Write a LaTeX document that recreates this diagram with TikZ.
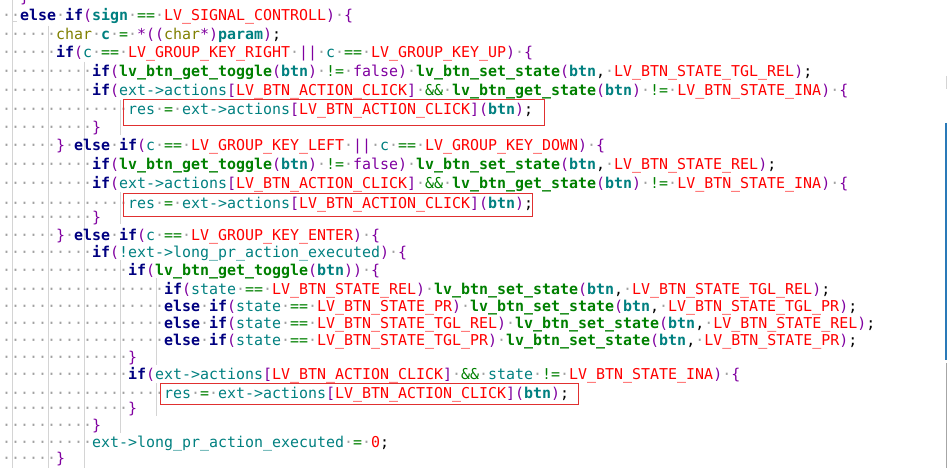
\documentclass[tikz,border=0pt]{standalone}
\usepackage{fontspec}
\setmainfont{DejaVu Sans Mono}
\definecolor{kwc}{HTML}{000080}
\definecolor{idc}{HTML}{008080}
\definecolor{fnc}{HTML}{008000}
\definecolor{opc}{HTML}{008000}
\definecolor{cnc}{HTML}{FF0000}
\definecolor{pc}{HTML}{8000A0}
\definecolor{olc}{HTML}{808000}
\definecolor{dotc}{HTML}{A0A0A0}
\definecolor{guidec}{HTML}{D4D4D4}
\definecolor{boxc}{HTML}{E03030}
\definecolor{bluec}{HTML}{2A7AB8}
\catcode`\_=12
\newcommand\K[1]{\textcolor{kwc}{\bfseries #1}}
\newcommand\I[1]{\textcolor{idc}{#1}}
\newcommand\B[1]{\textcolor{idc}{\bfseries #1}}
\newcommand\F[1]{\textcolor{fnc}{\bfseries #1}}
\newcommand\OP[1]{\textcolor{opc}{#1}}
\newcommand\C[1]{\textcolor{cnc}{#1}}
\newcommand\PP[1]{\textcolor{pc}{#1}}
\newcommand\Y[1]{\textcolor{olc}{#1}}
\newcommand\s{\textcolor{dotc}{·}}
\newcommand\ind[1]{\count255=0 \loop\ifnum\count255<#1 \s\advance\count255 1 \repeat}
\newcommand\resline{\I{res}\s\OP{=}\s\I{ext->actions}\PP{[}\C{LV_BTN_ACTION_CLICK}\PP{](}\B{btn}\PP{)};}
\newcommand\setst[1]{\F{lv_btn_set_state}\PP{(}\B{btn},\s\C{#1}\PP{)};}
\newcommand\elst[3]{#1\K{if}\PP{(}\I{state}\s\OP{==}\s\C{#2}\PP{)}\s\setst{#3}}
\begin{document}
\begin{tikzpicture}[x=1pt,y=-1pt,
  code/.style={anchor=base west,inner sep=0pt,font=\fontsize{14.95}{17.7}\selectfont},
  guide/.style={draw=guidec,line width=0.8pt},
  hl/.style={draw=boxc,line width=0.9pt}]
\useasboundingbox[fill=white] (0,0) rectangle (947,468);
% guides
\draw[guide] (12,0) -- (12,468);
\draw[guide] (48,26) -- (48,468);
\draw[guide] (84,62) -- (84,468);
\draw[guide] (120,100) -- (120,135) (120,192) -- (120,224) (120,260) -- (120,433);
\draw[guide] (156,278) -- (156,365) (156,383) -- (156,416);
\draw[guide] (12,21) -- (17,21);
% right edge
\draw[guidec,line width=1pt] (946,76) -- (946,89);
\draw[bluec,line width=1.2pt] (946,123) -- (946,360);
\draw[gray!70,line width=1pt] (946,363) -- (946,468);
\foreach \i/\yy/\t in {
 -1/-2/{\ind2\PP{\}}},
 0/16/{\ind2\K{else}\s\K{if}\PP{(}\B{sign}\s\OP{==}\s\C{LV_SIGNAL_CONTROLL}\PP{)}\s\PP{\{}},
 1/35/{\ind6\Y{char}\s\B{c}\s\OP{=}\s\PP{*((}\Y{char}\PP{*)}\B{param}\PP{)};},
 2/53/{\ind6\K{if}\PP{(}\I{c}\s\OP{==}\s\C{LV_GROUP_KEY_RIGHT}\s\PP{||}\s\I{c}\s\OP{==}\s\C{LV_GROUP_KEY_UP}\PP{)}\s\PP{\{}},
 3/72/{\ind{10}\K{if}\PP{(}\F{lv_btn_get_toggle}\PP{(}\B{btn}\PP{)}\s\OP{!=}\s\PP{false)}\s\setst{LV_BTN_STATE_TGL_REL}},
 4/91/{\ind{10}\K{if}\PP{(}\I{ext->actions}\PP{[}\C{LV_BTN_ACTION_CLICK}\PP{]}\s\OP{\&\&}\s\F{lv_btn_get_state}\PP{(}\B{btn}\PP{)}\s\OP{!=}\s\C{LV_BTN_STATE_INA}\PP{)}\s\PP{\{}},
 5/110/{\ind{14}\resline},
 6/127/{\ind{10}\PP{\}}},
 7/145/{\ind6\PP{\}}\s\K{else}\s\K{if}\PP{(}\I{c}\s\OP{==}\s\C{LV_GROUP_KEY_LEFT}\s\PP{||}\s\I{c}\s\OP{==}\s\C{LV_GROUP_KEY_DOWN}\PP{)}\s\PP{\{}},
 8/164/{\ind{10}\K{if}\PP{(}\F{lv_btn_get_toggle}\PP{(}\B{btn}\PP{)}\s\OP{!=}\s\PP{false)}\s\setst{LV_BTN_STATE_REL}},
 9/183/{\ind{10}\K{if}\PP{(}\I{ext->actions}\PP{[}\C{LV_BTN_ACTION_CLICK}\PP{]}\s\OP{\&\&}\s\F{lv_btn_get_state}\PP{(}\B{btn}\PP{)}\s\OP{!=}\s\C{LV_BTN_STATE_INA}\PP{)}\s\PP{\{}},
 10/203/{\ind{14}\resline},
 11/217/{\ind{10}\PP{\}}},
 12/235/{\ind6\PP{\}}\s\K{else}\s\K{if}\PP{(}\I{c}\s\OP{==}\s\C{LV_GROUP_KEY_ENTER}\PP{)}\s\PP{\{}},
 13/252/{\ind{10}\K{if}\PP{(}\I{!ext->long_pr_action_executed}\PP{)}\s\PP{\{}},
 14/270/{\ind{14}\K{if}\PP{(}\F{lv_btn_get_toggle}\PP{(}\B{btn}\PP{))}\s\PP{\{}},
 15/289/{\ind{18}\elst{}{LV_BTN_STATE_REL}{LV_BTN_STATE_TGL_REL}},
 16/306/{\ind{18}\elst{\K{else}\s}{LV_BTN_STATE_PR}{LV_BTN_STATE_TGL_PR}},
 17/323/{\ind{18}\elst{\K{else}\s}{LV_BTN_STATE_TGL_REL}{LV_BTN_STATE_REL}},
 18/340/{\ind{18}\elst{\K{else}\s}{LV_BTN_STATE_TGL_PR}{LV_BTN_STATE_PR}},
 19/357/{\ind{14}\PP{\}}},
 20/374/{\ind{14}\K{if}\PP{(}\I{ext->actions}\PP{[}\C{LV_BTN_ACTION_CLICK}\PP{]}\s\OP{\&\&}\s\I{state}\s\OP{!=}\s\C{LV_BTN_STATE_INA}\PP{)}\s\PP{\{}},
 21/393/{\ind{18}\resline},
 22/408/{\ind{14}\PP{\}}},
 23/425/{\ind{10}\PP{\}}},
 24/442/{\ind{10}\I{ext->long_pr_action_executed}\s\OP{=}\s\C{0};},
 25/458/{\ind6\PP{\}}}}
 \node[code] (l\i) at (2,{\yy+5}) {\t};
% highlight boxes
\draw[hl] (123,99) rectangle (544,125);
\draw[hl] (123,193) rectangle (532,216);
\draw[hl] (160,383) rectangle (578,404);
\end{tikzpicture}
\end{document}
